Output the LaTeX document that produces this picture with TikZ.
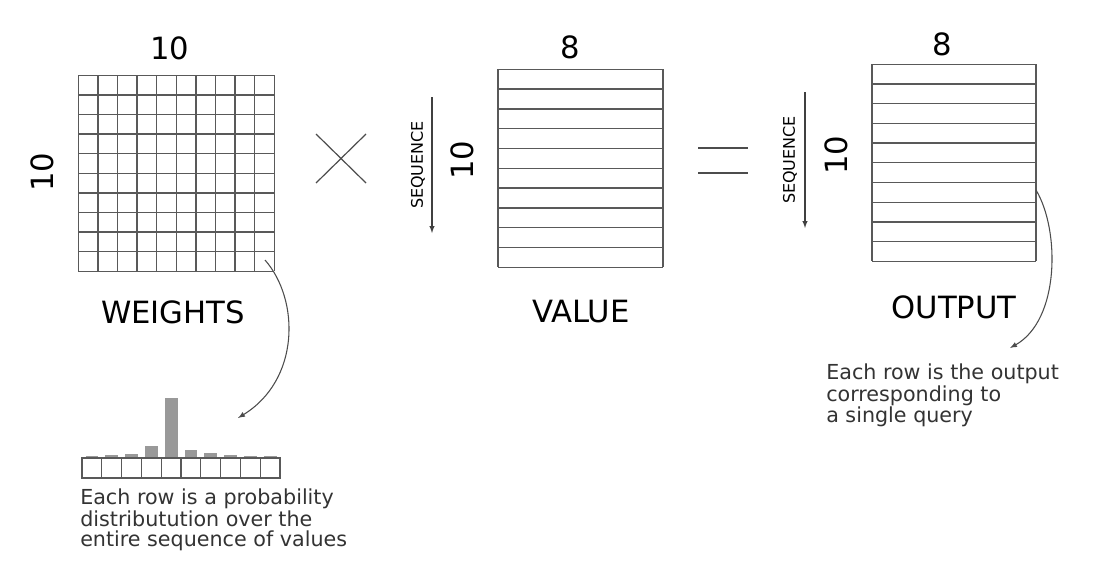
\documentclass[tikz,border=0pt]{standalone}
\usepackage{fontspec}
\setmainfont{DejaVu Sans}
\begin{document}
\begin{tikzpicture}[x=0.75pt,y=-0.75pt,
  ln/.style={draw=black!65,line width=1pt},
  big/.style={font=\fontsize{23}{26}\selectfont},
  seq/.style={font=\fontsize{12}{14}\selectfont,rotate=90},
  note/.style={font=\fontsize{15.5}{15}\selectfont,align=left,anchor=north west,inner sep=0pt,text=black!80},
  curv/.style={draw=black!70,line width=0.8pt,-latex}]
\useasboundingbox (0,0) rectangle (1096,578);
% weights grid
\foreach \i in {0,...,10}{
  \draw[ln] ({78.3+19.6*\i},75.3) -- ({78.3+19.6*\i},271.3);
  \draw[ln] (78.3,{75.3+19.6*\i}) -- (274.3,{75.3+19.6*\i});}
\node[big] (w10t) at (170,48) {10};
\node[big,rotate=90] (w10l) at (42,172) {10};
\node[big] (wl) at (173,312) {WEIGHTS};
% times
\draw[draw=black!70,line width=0.9pt] (316,134) -- (366,183) (366,134) -- (316,183);
% value
\foreach \i in {0,...,10}{\draw[ln] (498,{69.3+19.8*\i}) -- (663,{69.3+19.8*\i});}
\draw[ln] (498,69.3) -- (498,267.3) (663,69.3) -- (663,267.3);
\node[big] (v8) at (570,47) {8};
\node[big,rotate=90] (v10) at (462,160) {10};
\node[seq] (vs) at (418,165) {SEQUENCE};
\coordinate (va1) at (432,97); \coordinate (va2) at (432,233);
\draw[draw=black!75,line width=0.8pt,-latex] (va1) -- (va2);
\node[big] (vl) at (581,312) {VALUE};
% equals
\draw[draw=black!70,line width=0.9pt] (698,148) -- (748,148) (698,173) -- (748,173);
% output
\foreach \i in {0,...,10}{\draw[ln] (872,{64.3+19.7*\i}) -- (1036,{64.3+19.7*\i});}
\draw[ln] (872,64.3) -- (872,261.3) (1036,64.3) -- (1036,261.3);
\node[big] (o8) at (942,44) {8};
\node[big,rotate=90] (o10) at (836,155) {10};
\node[seq] (os) at (790,160) {SEQUENCE};
\coordinate (oa1) at (805,92); \coordinate (oa2) at (805,228);
\draw[draw=black!75,line width=0.8pt,-latex] (oa1) -- (oa2);
\node[big] (ol) at (954,307) {OUTPUT};
% bar chart
\foreach \h [count=\i from 0] in {2,3,4,12,60,8,5,3,2,2}{
  \fill[black!40] ({82+19.8*\i+3.5},458) rectangle ({82+19.8*\i+16.3},{458-\h});
  \draw[ln] ({82+19.8*\i},458) rectangle ({82+19.8*(\i+1)},478);}
% curved arrows
\coordinate (wc1) at (265,260); \coordinate (wc2) at (238,418);
\draw[curv] (wc1) .. controls (300,300) and (300,380) .. (wc2);
\coordinate (oc1) at (1036,190); \coordinate (oc2) at (1010,348);
\draw[curv] (oc1) .. controls (1060,230) and (1060,320) .. (oc2);
\node[note] (wn) at (80,489) {Each row is a probability\\distributution over the\\entire sequence of values};
\node[note] (on) at (826,364) {Each row is the output\\corresponding to\\a single query};
\end{tikzpicture}
\end{document}
